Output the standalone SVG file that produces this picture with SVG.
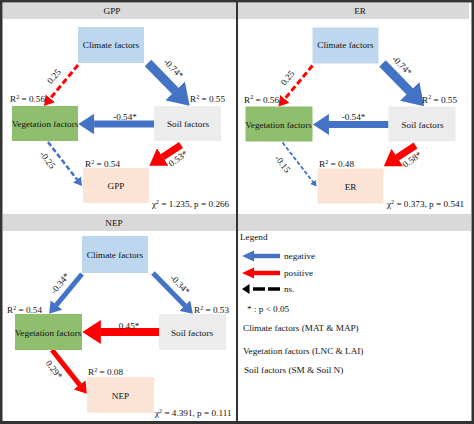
<svg xmlns="http://www.w3.org/2000/svg" width="474" height="424" viewBox="0 0 474 424">
<style>
text{font-family:"Liberation Serif","Times New Roman",serif;font-size:9.2px;fill:#111}
.mid{text-anchor:middle}
.hdr{fill:#d9d9d9}
.clim{fill:#bdd7ee}
.veg{fill:#8fbf6e}
.soil{fill:#ececec}
.out{fill:#fbe4d5}
.b{stroke:#4472c4;fill:none}
.r{stroke:#ff0000;fill:none}
.d{stroke-dasharray:6,3}
.d2{stroke-dasharray:5,2.5}
</style>
<defs>
<marker id="hbS" viewBox="0 0 2.3 3" refX="0.05" refY="1.5" markerWidth="2.3" markerHeight="3" markerUnits="strokeWidth" orient="auto"><path d="M0,0 L2.3,1.5 L0,3 z" fill="#4472c4"/></marker>
<marker id="hrS" viewBox="0 0 2.3 3" refX="0.05" refY="1.5" markerWidth="2.3" markerHeight="3" markerUnits="strokeWidth" orient="auto"><path d="M0,0 L2.3,1.5 L0,3 z" fill="#ff0000"/></marker>
<marker id="hbD" viewBox="0 0 3.3 4" refX="0" refY="2" markerWidth="3.3" markerHeight="4" markerUnits="strokeWidth" orient="auto"><path d="M0,0 L3.3,2 L0,4 z" fill="#4472c4"/></marker>
<marker id="hrD" viewBox="0 0 3.3 4" refX="0" refY="2" markerWidth="3.3" markerHeight="4" markerUnits="strokeWidth" orient="auto"><path d="M0,0 L3.3,2 L0,4 z" fill="#ff0000"/></marker>
</defs>
<rect width="474" height="424" fill="#fff"/>
<!-- frame -->
<g id="frame">
<rect x="3" y="3" width="233" height="16" class="hdr"/>
<rect x="238" y="3" width="231" height="16" class="hdr"/>
<rect x="3" y="214" width="233" height="17" class="hdr"/>
<rect x="238" y="214" width="233" height="17" class="hdr"/>
<rect x="0" y="0" width="474" height="2.5" fill="#333"/>
<rect x="0" y="421" width="474" height="3" fill="#333"/>
<rect x="0" y="0" width="2.5" height="424" fill="#333"/>
<rect x="471.5" y="0" width="2.5" height="424" fill="#333"/>
<rect x="236" y="0" width="2" height="424" fill="#333"/>
<text x="112" y="14" class="mid">GPP</text>
<text x="360" y="14" class="mid">ER</text>
<text x="114" y="226" class="mid">NEP</text>
</g>

<!-- GPP panel -->
<g id="gpp-panel">
<g id="gpp-connectors">
<line x1="78" y1="65" x2="50.3" y2="98.4" class="r d" stroke-width="3" marker-end="url(#hrD)"/>
<line x1="148" y1="63" x2="175.5" y2="91.2" class="b" stroke-width="9" marker-end="url(#hbS)"/>
<line x1="154" y1="124" x2="94.1" y2="124" class="b" stroke-width="7" marker-end="url(#hbS)"/>
<line x1="48" y1="142" x2="77" y2="179.5" class="b d2" stroke-width="2.5" marker-end="url(#hbD)"/>
<line x1="181" y1="145" x2="162.5" y2="157.2" class="r" stroke-width="7" marker-end="url(#hrS)"/>
<text class="mid" transform="translate(54,76.5) rotate(-50)" y="3">0.25</text>
<text class="mid" transform="translate(173.5,68.5) rotate(45)" y="3">-0.74*</text>
<text class="mid" x="125" y="119.5">-0.54*</text>
<text class="mid" transform="translate(47.5,160) rotate(52)" y="3">-0.25</text>
<text class="mid" transform="translate(178,158.5) rotate(-35)" y="3">0.53*</text>
</g>
<g id="gpp-climate"><rect x="78" y="27" width="66" height="36" class="clim"/><text x="111" y="47.5" class="mid">Climate factors</text></g>
<g id="gpp-veg"><rect x="12" y="106" width="66" height="35" class="veg"/><text x="45" y="127" class="mid">Vegetation factors</text><text x="10" y="102">R<tspan font-size="6" dy="-3.5">2</tspan><tspan dy="3.5"> = 0.56</tspan></text></g>
<g id="gpp-soil"><rect x="154" y="106" width="67" height="35" class="soil"/><text x="188" y="127" class="mid">Soil factors</text><text x="190" y="102">R<tspan font-size="6" dy="-3.5">2</tspan><tspan dy="3.5"> = 0.55</tspan></text></g>
<g id="gpp-out"><rect x="83" y="168" width="66" height="35" class="out"/><text x="116" y="189" class="mid">GPP</text><text x="85" y="167">R<tspan font-size="6" dy="-3.5">2</tspan><tspan dy="3.5"> = 0.54</tspan></text></g>
<text x="152" y="207">χ<tspan font-size="6" dy="-3.5">2</tspan><tspan dy="3.5"> = 1.235, p = 0.266</tspan></text>
</g>

<!-- ER panel -->
<g id="er-panel" transform="translate(234.5,0.5)">
<g id="er-connectors">
<line x1="78" y1="65" x2="50.3" y2="98.4" class="r d" stroke-width="3" marker-end="url(#hrD)"/>
<line x1="148" y1="63" x2="175.5" y2="91.2" class="b" stroke-width="9" marker-end="url(#hbS)"/>
<line x1="154" y1="124" x2="94.1" y2="124" class="b" stroke-width="7" marker-end="url(#hbS)"/>
<line x1="48" y1="142" x2="78.4" y2="181.3" class="b" stroke-dasharray="4,2" stroke-width="1.8" marker-end="url(#hbD)"/>
<line x1="181" y1="145" x2="162.5" y2="157.2" class="r" stroke-width="7" marker-end="url(#hrS)"/>
<text class="mid" transform="translate(53,77.5) rotate(-50)" y="3">0.25</text>
<text class="mid" transform="translate(167.5,65) rotate(45)" y="3">-0.74*</text>
<text class="mid" x="119" y="119.5">-0.54*</text>
<text class="mid" transform="translate(48,163.5) rotate(52)" y="3">-0.15</text>
<text class="mid" transform="translate(177.5,159) rotate(-35)" y="3">0.58*</text>
</g>
<g id="er-climate"><rect x="78" y="27" width="66" height="36" class="clim"/><text x="111" y="47.5" class="mid">Climate factors</text></g>
<g id="er-veg"><rect x="11" y="106" width="67" height="35" class="veg"/><text x="44" y="127" class="mid">Vegetation factors</text><text x="9.5" y="102">R<tspan font-size="6" dy="-3.5">2</tspan><tspan dy="3.5"> = 0.56</tspan></text></g>
<g id="er-soil"><rect x="154" y="106" width="67" height="35" class="soil"/><text x="188" y="127" class="mid">Soil factors</text><text x="187.5" y="102">R<tspan font-size="6" dy="-3.5">2</tspan><tspan dy="3.5"> = 0.55</tspan></text></g>
<g id="er-out"><rect x="83" y="168" width="66" height="35" class="out"/><text x="116" y="189" class="mid">ER</text><text x="84.5" y="166.5">R<tspan font-size="6" dy="-3.5">2</tspan><tspan dy="3.5"> = 0.48</tspan></text></g>
<text x="152.5" y="206.5">χ<tspan font-size="6" dy="-3.5">2</tspan><tspan dy="3.5"> = 0.373, p = 0.541</tspan></text>
</g>

<!-- NEP panel -->
<g id="nep-panel">
<g id="nep-connectors">
<line x1="82" y1="274" x2="56.3" y2="305.1" class="b" stroke-width="5" marker-end="url(#hbS)"/>
<line x1="153" y1="273" x2="185" y2="305.8" class="b" stroke-width="5" marker-end="url(#hbS)"/>
<line x1="159" y1="332" x2="100.4" y2="332" class="r" stroke-width="8" marker-end="url(#hrS)"/>
<line x1="52" y1="350" x2="79.8" y2="385" class="r" stroke-width="5" marker-end="url(#hrS)"/>
<text class="mid" transform="translate(60,283.5) rotate(-50)" y="3">-0.34*</text>
<text class="mid" transform="translate(180,284.5) rotate(45)" y="3">-0.34*</text>
<text class="mid" x="129" y="329">0.45*</text>
<text class="mid" transform="translate(54,369.5) rotate(52)" y="3">0.29*</text>
</g>
<g id="nep-climate"><rect x="82" y="236" width="66" height="37" class="clim"/><text x="115" y="257.5" class="mid">Climate factors</text></g>
<g id="nep-veg"><rect x="15" y="314" width="67" height="36" class="veg"/><text x="48" y="335.5" class="mid">Vegetation factors</text><text x="7" y="313">R<tspan font-size="6" dy="-3.5">2</tspan><tspan dy="3.5"> = 0.54</tspan></text></g>
<g id="nep-soil"><rect x="159" y="314" width="67" height="36" class="soil"/><text x="192" y="335.5" class="mid">Soil factors</text><text x="194" y="313">R<tspan font-size="6" dy="-3.5">2</tspan><tspan dy="3.5"> = 0.53</tspan></text></g>
<g id="nep-out"><rect x="87" y="377" width="67" height="36" class="out"/><text x="120.5" y="398.5" class="mid">NEP</text><text x="88" y="375">R<tspan font-size="6" dy="-3.5">2</tspan><tspan dy="3.5"> = 0.08</tspan></text></g>
<text x="155" y="416">χ<tspan font-size="6" dy="-3.5">2</tspan><tspan dy="3.5"> = 4.391, p = 0.111</tspan></text>
</g>

<!-- Legend -->
<g id="legend">
<text x="240" y="240">Legend</text>
<line x1="280" y1="256" x2="252" y2="256" stroke="#4472c4" stroke-width="4.5"/>
<polygon points="242,256 254,250.5 254,261.5" fill="#4472c4"/>
<text x="284" y="259">negative</text>
<line x1="280" y1="273" x2="252" y2="273" stroke="#ff0000" stroke-width="4.5"/>
<polygon points="242,273 254,267.5 254,278.5" fill="#ff0000"/>
<text x="284" y="276">positive</text>
<line x1="280" y1="289" x2="251" y2="289" stroke="#000" stroke-width="3.5" stroke-dasharray="12,3"/>
<polygon points="242,289 249.5,284 249.5,294" fill="#000"/>
<text x="284" y="292">ns.</text>
<text x="247" y="312">* : p &lt; 0.05</text>
<text x="243" y="331">Climate factors (MAT &amp; MAP)</text>
<text x="243" y="354">Vegetation factors (LNC &amp; LAI)</text>
<text x="244" y="373">Soil factors (SM &amp; Soil N)</text>
</g>
</svg>
